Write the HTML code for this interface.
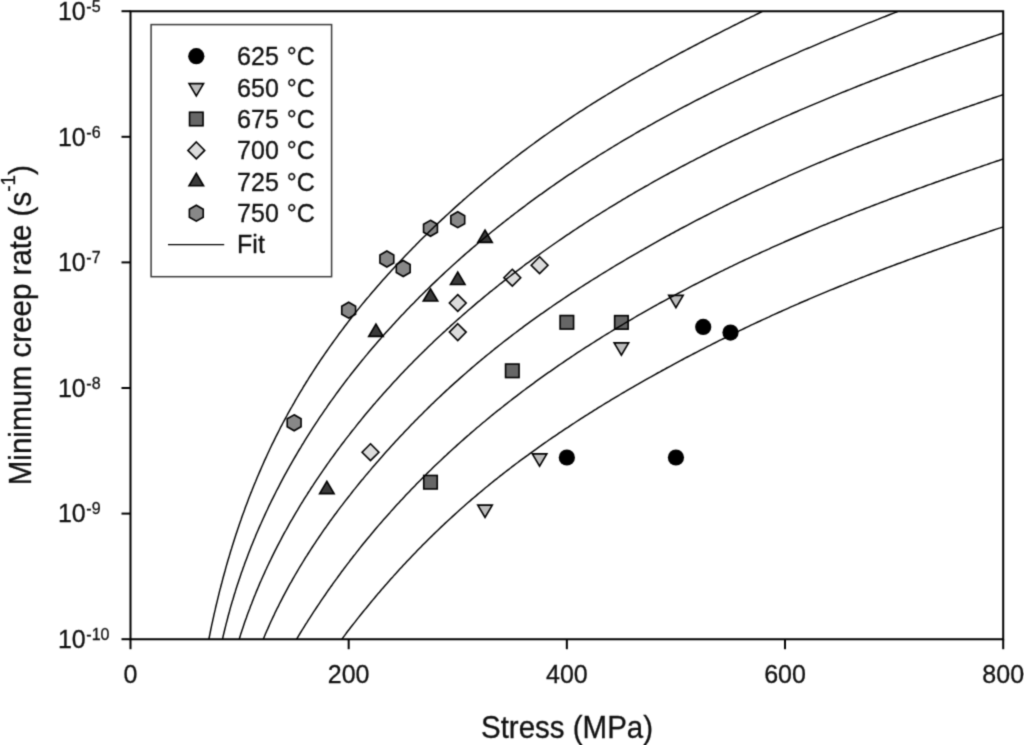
<!DOCTYPE html>
<html><head><meta charset="utf-8"><style>
html,body{margin:0;padding:0;background:#fff;}
svg{display:block;}
</style></head><body>
<svg width="1024" height="745" viewBox="0 0 1024 745">
<defs><filter id="soft" x="0" y="0" width="1" height="1" color-interpolation-filters="sRGB"><feConvolveMatrix order="3" kernelMatrix="0.0622 0.2494 0.0622 0.2494 1 0.2494 0.0622 0.2494 0.0622" edgeMode="duplicate"/></filter></defs>
<g filter="url(#soft)">
<rect width="1024" height="745" fill="#fff"/>
<circle cx="566.85" cy="457.50" r="8.1" fill="#000000"/>
<circle cx="675.94" cy="457.50" r="8.1" fill="#000000"/>
<circle cx="703.21" cy="326.90" r="8.1" fill="#000000"/>
<circle cx="730.48" cy="332.60" r="8.1" fill="#000000"/>
<polygon points="477.78,505.15 492.28,505.15 485.03,517.45" fill="#bdbdbd" stroke="#000" stroke-width="1.6" stroke-linejoin="miter"/>
<polygon points="532.33,453.85 546.83,453.85 539.58,466.15" fill="#bdbdbd" stroke="#000" stroke-width="1.6" stroke-linejoin="miter"/>
<polygon points="614.14,342.85 628.64,342.85 621.39,355.15" fill="#bdbdbd" stroke="#000" stroke-width="1.6" stroke-linejoin="miter"/>
<polygon points="668.69,295.35 683.19,295.35 675.94,307.65" fill="#bdbdbd" stroke="#000" stroke-width="1.6" stroke-linejoin="miter"/>
<rect x="423.74" y="475.45" width="13.5" height="13.5" fill="#666666" stroke="#000" stroke-width="1.6"/>
<rect x="505.56" y="364.05" width="13.5" height="13.5" fill="#666666" stroke="#000" stroke-width="1.6"/>
<rect x="560.10" y="315.55" width="13.5" height="13.5" fill="#666666" stroke="#000" stroke-width="1.6"/>
<rect x="614.64" y="315.65" width="13.5" height="13.5" fill="#666666" stroke="#000" stroke-width="1.6"/>
<polygon points="370.49,443.80 378.89,452.20 370.49,460.60 362.09,452.20" fill="#dcdcdc" stroke="#000" stroke-width="1.6"/>
<polygon points="457.76,323.70 466.16,332.10 457.76,340.50 449.36,332.10" fill="#dcdcdc" stroke="#000" stroke-width="1.6"/>
<polygon points="457.76,294.60 466.16,303.00 457.76,311.40 449.36,303.00" fill="#dcdcdc" stroke="#000" stroke-width="1.6"/>
<polygon points="512.31,269.30 520.71,277.70 512.31,286.10 503.91,277.70" fill="#dcdcdc" stroke="#000" stroke-width="1.6"/>
<polygon points="539.58,256.80 547.98,265.20 539.58,273.60 531.18,265.20" fill="#dcdcdc" stroke="#000" stroke-width="1.6"/>
<polygon points="319.61,493.65 334.11,493.65 326.86,481.35" fill="#3a3a3a" stroke="#000" stroke-width="1.6"/>
<polygon points="368.70,336.35 383.20,336.35 375.95,324.05" fill="#3a3a3a" stroke="#000" stroke-width="1.6"/>
<polygon points="423.24,301.05 437.74,301.05 430.49,288.75" fill="#3a3a3a" stroke="#000" stroke-width="1.6"/>
<polygon points="450.51,284.45 465.01,284.45 457.76,272.15" fill="#3a3a3a" stroke="#000" stroke-width="1.6"/>
<polygon points="477.78,242.35 492.28,242.35 485.03,230.05" fill="#3a3a3a" stroke="#000" stroke-width="1.6"/>
<polygon points="294.13,414.80 301.06,418.80 301.06,426.80 294.13,430.80 287.20,426.80 287.20,418.80" fill="#888888" stroke="#000" stroke-width="1.6"/>
<polygon points="348.68,302.20 355.60,306.20 355.60,314.20 348.68,318.20 341.75,314.20 341.75,306.20" fill="#888888" stroke="#000" stroke-width="1.6"/>
<polygon points="386.86,251.00 393.78,255.00 393.78,263.00 386.86,267.00 379.93,263.00 379.93,255.00" fill="#888888" stroke="#000" stroke-width="1.6"/>
<polygon points="403.22,260.50 410.15,264.50 410.15,272.50 403.22,276.50 396.29,272.50 396.29,264.50" fill="#888888" stroke="#000" stroke-width="1.6"/>
<polygon points="430.49,220.30 437.42,224.30 437.42,232.30 430.49,236.30 423.56,232.30 423.56,224.30" fill="#888888" stroke="#000" stroke-width="1.6"/>
<polygon points="457.76,211.70 464.69,215.70 464.69,223.70 457.76,227.70 450.83,223.70 450.83,215.70" fill="#888888" stroke="#000" stroke-width="1.6"/>
<clipPath id="pa"><rect x="130.5" y="11.2" width="872.7" height="628.0"/></clipPath>
<g fill="none" stroke="#000" stroke-width="1.45" stroke-linejoin="round" clip-path="url(#pa)">
<path d="M316.1,676.8 L317.4,674.7 L318.8,672.5 L320.2,670.4 L321.6,668.4 L323.0,666.2 L324.4,664.2 L325.8,662.1 L327.2,660.0 L328.6,657.9 L330.0,655.8 L331.5,653.7 L332.9,651.7 L334.3,649.6 L335.8,647.5 L337.3,645.5 L338.7,643.4 L340.2,641.4 L341.7,639.4 L343.2,637.4 L344.7,635.4 L346.2,633.3 L347.7,631.3 L349.3,629.3 L350.8,627.3 L352.4,625.3 L353.9,623.4 L355.5,621.4 L357.0,619.4 L358.6,617.4 L360.1,615.5 L361.7,613.5 L363.3,611.5 L364.9,609.6 L366.5,607.7 L368.1,605.7 L369.7,603.8 L371.3,601.8 L372.9,599.9 L374.5,598.0 L376.1,596.0 L377.7,594.1 L379.4,592.2 L381.0,590.3 L382.6,588.4 L384.3,586.5 L386.0,584.6 L387.6,582.7 L389.3,580.8 L391.0,578.8 L392.8,576.9 L394.5,574.9 L396.3,573.0 L398.1,571.0 L399.8,569.1 L401.6,567.2 L403.3,565.3 L405.1,563.4 L406.8,561.6 L408.6,559.7 L410.3,557.9 L412.1,556.0 L413.8,554.2 L415.6,552.4 L417.3,550.6 L419.1,548.8 L420.9,547.0 L422.7,545.1 L424.6,543.2 L426.4,541.4 L428.3,539.5 L430.1,537.7 L432.0,535.9 L433.8,534.1 L435.7,532.3 L437.6,530.5 L439.4,528.7 L441.3,526.9 L443.1,525.2 L445.0,523.4 L446.8,521.7 L448.7,520.0 L450.6,518.3 L452.4,516.6 L454.3,514.9 L456.1,513.2 L458.0,511.5 L459.9,509.7 L461.9,508.0 L463.9,506.3 L465.8,504.5 L467.8,502.8 L469.8,501.1 L471.7,499.4 L473.7,497.7 L475.7,496.1 L477.6,494.4 L479.6,492.7 L481.6,491.1 L483.5,489.5 L485.5,487.8 L487.5,486.2 L489.4,484.6 L491.4,483.0 L493.4,481.4 L495.3,479.8 L497.3,478.3 L499.3,476.7 L501.3,475.2 L503.2,473.6 L505.3,472.0 L507.4,470.4 L509.5,468.8 L511.5,467.2 L513.6,465.6 L515.7,464.0 L517.8,462.5 L519.8,460.9 L521.9,459.4 L524.0,457.9 L526.1,456.3 L528.2,454.8 L530.2,453.3 L532.3,451.8 L534.4,450.3 L536.5,448.8 L538.5,447.3 L540.6,445.9 L542.7,444.4 L544.8,442.9 L546.9,441.5 L548.9,440.0 L551.0,438.6 L553.1,437.2 L555.2,435.8 L557.3,434.4 L559.3,432.9 L561.4,431.6 L563.5,430.2 L565.7,428.7 L567.9,427.3 L570.0,425.8 L572.2,424.4 L574.4,423.0 L576.6,421.5 L578.8,420.1 L581.0,418.7 L583.1,417.3 L585.3,415.9 L587.5,414.6 L589.7,413.2 L591.9,411.8 L594.0,410.4 L596.2,409.1 L598.4,407.7 L600.6,406.4 L602.8,405.0 L604.9,403.7 L607.1,402.4 L609.3,401.1 L611.5,399.7 L613.7,398.4 L615.8,397.1 L618.0,395.8 L620.2,394.5 L622.4,393.2 L624.6,392.0 L626.7,390.7 L628.9,389.4 L631.1,388.1 L633.3,386.9 L635.4,385.6 L637.6,384.4 L639.8,383.1 L642.0,381.9 L644.1,380.7 L646.3,379.4 L648.6,378.1 L650.9,376.9 L653.2,375.6 L655.4,374.3 L657.7,373.0 L660.0,371.8 L662.3,370.5 L664.5,369.3 L666.8,368.0 L669.1,366.8 L671.4,365.6 L673.6,364.3 L675.9,363.1 L678.2,361.9 L680.5,360.7 L682.7,359.5 L685.0,358.2 L687.3,357.0 L689.6,355.8 L691.9,354.7 L694.1,353.5 L696.4,352.3 L698.7,351.1 L701.0,349.9 L703.2,348.8 L705.5,347.6 L707.8,346.4 L710.1,345.3 L712.3,344.1 L714.6,343.0 L716.9,341.8 L719.1,340.7 L721.4,339.6 L723.7,338.5 L726.0,337.3 L728.2,336.2 L730.5,335.1 L732.8,334.0 L735.1,332.9 L737.3,331.8 L739.6,330.7 L741.9,329.6 L744.2,328.5 L746.4,327.4 L748.7,326.3 L751.0,325.2 L753.3,324.2 L755.5,323.1 L757.8,322.0 L760.1,321.0 L762.4,319.9 L764.7,318.9 L766.9,317.8 L769.2,316.8 L771.5,315.7 L773.8,314.7 L776.1,313.6 L778.5,312.5 L780.9,311.5 L783.3,310.4 L785.7,309.3 L788.0,308.3 L790.4,307.2 L792.8,306.2 L795.2,305.1 L797.6,304.1 L799.9,303.0 L802.3,302.0 L804.7,301.0 L807.1,300.0 L809.5,298.9 L811.9,297.9 L814.2,296.9 L816.6,295.9 L819.0,294.9 L821.4,293.9 L823.8,292.9 L826.2,291.9 L828.5,290.9 L830.9,289.9 L833.3,289.0 L835.7,288.0 L838.1,287.0 L840.5,286.0 L842.9,285.1 L845.2,284.1 L847.6,283.2 L850.0,282.2 L852.4,281.3 L854.8,280.3 L857.2,279.4 L859.6,278.4 L861.9,277.5 L864.3,276.6 L866.7,275.6 L869.1,274.7 L871.5,273.8 L873.9,272.9 L876.3,272.0 L878.6,271.0 L881.0,270.1 L883.4,269.2 L885.8,268.3 L888.2,267.4 L890.6,266.5 L893.0,265.6 L895.3,264.7 L897.7,263.8 L900.1,263.0 L902.5,262.1 L904.9,261.2 L907.3,260.3 L909.7,259.4 L912.0,258.6 L914.4,257.7 L916.8,256.8 L919.2,256.0 L921.6,255.1 L924.0,254.2 L926.4,253.4 L928.7,252.5 L931.1,251.7 L933.5,250.8 L935.9,250.0 L938.3,249.1 L940.7,248.3 L943.1,247.5 L945.4,246.6 L947.8,245.8 L950.2,244.9 L952.6,244.1 L955.0,243.3 L957.4,242.5 L959.7,241.6 L962.1,240.8 L964.5,240.0 L966.9,239.2 L969.3,238.3 L971.7,237.5 L974.0,236.7 L976.4,235.9 L978.8,235.1 L981.2,234.3 L983.6,233.5 L985.9,232.7 L988.3,231.9 L990.7,231.0 L993.1,230.2 L995.5,229.4 L997.8,228.6 L1000.2,227.9 L1002.6,227.1 L1003.2,226.8"/>
<path d="M275.4,676.8 L276.5,674.6 L277.7,672.4 L278.9,670.1 L280.1,667.9 L281.3,665.7 L282.6,663.5 L283.8,661.3 L285.0,659.1 L286.3,656.9 L287.5,654.7 L288.7,652.5 L290.0,650.3 L291.3,648.1 L292.5,646.0 L293.8,643.8 L295.1,641.6 L296.4,639.5 L297.7,637.3 L299.0,635.1 L300.3,633.0 L301.6,630.8 L303.0,628.7 L304.3,626.6 L305.6,624.4 L307.0,622.3 L308.3,620.2 L309.7,618.1 L311.1,615.9 L312.4,613.8 L313.8,611.7 L315.2,609.6 L316.6,607.5 L318.0,605.4 L319.4,603.3 L320.8,601.2 L322.2,599.1 L323.6,597.1 L325.1,595.0 L326.5,592.9 L327.9,590.8 L329.4,588.8 L330.8,586.7 L332.3,584.7 L333.7,582.6 L335.2,580.6 L336.7,578.6 L338.2,576.5 L339.7,574.5 L341.2,572.3 L342.8,570.3 L344.3,568.2 L345.9,566.1 L347.4,564.1 L349.0,562.1 L350.5,560.0 L352.1,558.0 L353.6,556.0 L355.2,554.1 L356.7,552.1 L358.4,550.0 L360.0,547.9 L361.7,545.8 L363.3,543.8 L365.0,541.7 L366.6,539.7 L368.3,537.7 L370.0,535.7 L371.6,533.7 L373.3,531.7 L374.9,529.8 L376.6,527.8 L378.2,525.9 L379.9,523.9 L381.6,522.0 L383.2,520.1 L384.9,518.2 L386.5,516.4 L388.3,514.4 L390.1,512.4 L391.8,510.4 L393.6,508.5 L395.3,506.5 L397.1,504.6 L398.9,502.7 L400.6,500.7 L402.4,498.9 L404.2,497.0 L405.9,495.1 L407.7,493.2 L409.5,491.4 L411.2,489.5 L413.0,487.7 L414.8,485.9 L416.5,484.1 L418.3,482.3 L420.1,480.5 L421.8,478.7 L423.7,476.8 L425.6,475.0 L427.4,473.1 L429.3,471.3 L431.2,469.5 L433.1,467.6 L434.9,465.8 L436.8,464.0 L438.7,462.2 L440.6,460.5 L442.4,458.7 L444.3,456.9 L446.2,455.2 L448.1,453.4 L449.9,451.7 L451.8,450.0 L453.7,448.3 L455.6,446.6 L457.4,444.9 L459.3,443.2 L461.2,441.5 L463.1,439.9 L465.0,438.1 L467.0,436.4 L469.0,434.7 L471.0,432.9 L473.0,431.2 L475.0,429.5 L476.9,427.8 L478.9,426.2 L480.9,424.5 L482.9,422.8 L484.9,421.2 L486.9,419.5 L488.9,417.9 L490.8,416.3 L492.8,414.6 L494.8,413.0 L496.8,411.4 L498.8,409.8 L500.8,408.3 L502.8,406.7 L504.7,405.1 L506.7,403.6 L508.7,402.0 L510.7,400.5 L512.7,398.9 L514.7,397.4 L516.8,395.8 L518.9,394.2 L520.9,392.6 L523.0,391.0 L525.1,389.5 L527.2,387.9 L529.3,386.4 L531.4,384.8 L533.5,383.3 L535.6,381.7 L537.7,380.2 L539.8,378.7 L541.9,377.2 L544.0,375.7 L546.1,374.2 L548.2,372.7 L550.3,371.3 L552.4,369.8 L554.5,368.3 L556.6,366.9 L558.7,365.4 L560.8,364.0 L562.9,362.6 L565.0,361.1 L567.1,359.7 L569.2,358.3 L571.3,356.9 L573.4,355.5 L575.4,354.1 L577.5,352.7 L579.6,351.4 L581.7,350.0 L583.8,348.6 L586.0,347.2 L588.3,345.8 L590.5,344.4 L592.7,343.0 L594.9,341.6 L597.1,340.2 L599.3,338.8 L601.5,337.4 L603.7,336.0 L605.9,334.7 L608.1,333.3 L610.3,332.0 L612.5,330.6 L614.7,329.3 L617.0,327.9 L619.2,326.6 L621.4,325.3 L623.6,324.0 L625.8,322.7 L628.0,321.4 L630.2,320.1 L632.4,318.8 L634.6,317.5 L636.8,316.2 L639.0,314.9 L641.3,313.7 L643.5,312.4 L645.7,311.1 L647.9,309.9 L650.1,308.7 L652.3,307.4 L654.5,306.2 L656.7,305.0 L658.9,303.7 L661.1,302.5 L663.3,301.3 L665.6,300.1 L667.8,298.9 L670.0,297.7 L672.2,296.5 L674.4,295.3 L676.6,294.1 L678.8,293.0 L681.0,291.8 L683.3,290.6 L685.7,289.3 L688.0,288.1 L690.3,286.9 L692.6,285.7 L694.9,284.5 L697.3,283.3 L699.6,282.1 L701.9,281.0 L704.2,279.8 L706.5,278.6 L708.9,277.5 L711.2,276.3 L713.5,275.1 L715.8,274.0 L718.1,272.8 L720.5,271.7 L722.8,270.6 L725.1,269.4 L727.4,268.3 L729.7,267.2 L732.1,266.1 L734.4,264.9 L736.7,263.8 L739.0,262.7 L741.3,261.6 L743.7,260.5 L746.0,259.4 L748.3,258.4 L750.6,257.3 L752.9,256.2 L755.3,255.1 L757.6,254.1 L759.9,253.0 L762.2,251.9 L764.6,250.9 L766.9,249.8 L769.2,248.8 L771.5,247.7 L773.8,246.7 L776.2,245.6 L778.5,244.6 L780.8,243.6 L783.1,242.6 L785.4,241.5 L787.8,240.5 L790.1,239.5 L792.4,238.5 L794.7,237.5 L797.0,236.5 L799.4,235.5 L801.7,234.5 L804.0,233.5 L806.3,232.5 L808.6,231.5 L811.0,230.6 L813.3,229.6 L815.6,228.6 L817.9,227.7 L820.2,226.7 L822.6,225.7 L824.9,224.8 L827.2,223.8 L829.5,222.9 L831.8,221.9 L834.2,221.0 L836.5,220.0 L838.8,219.1 L841.1,218.2 L843.5,217.2 L846.0,216.2 L848.4,215.2 L850.8,214.3 L853.3,213.3 L855.7,212.3 L858.1,211.4 L860.6,210.4 L863.0,209.5 L865.4,208.5 L867.8,207.6 L870.3,206.7 L872.7,205.7 L875.1,204.8 L877.6,203.9 L880.0,202.9 L882.4,202.0 L884.8,201.1 L887.3,200.2 L889.7,199.2 L892.1,198.3 L894.5,197.4 L897.0,196.5 L899.4,195.6 L901.8,194.7 L904.3,193.8 L906.7,192.9 L909.1,192.0 L911.5,191.1 L914.0,190.2 L916.4,189.3 L918.8,188.4 L921.2,187.6 L923.7,186.7 L926.1,185.8 L928.5,184.9 L930.9,184.1 L933.4,183.2 L935.8,182.3 L938.2,181.5 L940.6,180.6 L943.1,179.7 L945.5,178.9 L947.9,178.0 L950.3,177.2 L952.8,176.3 L955.2,175.5 L957.6,174.6 L960.0,173.8 L962.4,172.9 L964.9,172.1 L967.3,171.2 L969.7,170.4 L972.1,169.6 L974.6,168.7 L977.0,167.9 L979.4,167.1 L981.8,166.2 L984.2,165.4 L986.7,164.6 L989.1,163.7 L991.5,162.9 L993.9,162.1 L996.3,161.3 L998.8,160.5 L1001.2,159.6 L1003.1,159.0"/>
<path d="M246.1,677.3 L247.1,675.0 L248.1,672.7 L249.1,670.4 L250.1,668.1 L251.1,665.8 L252.1,663.4 L253.2,661.1 L254.2,658.8 L255.2,656.5 L256.3,654.2 L257.3,651.9 L258.4,649.6 L259.4,647.3 L260.5,645.0 L261.6,642.8 L262.7,640.5 L263.7,638.2 L264.7,635.8 L265.6,633.5 L266.6,631.2 L267.7,628.9 L268.7,626.6 L269.7,624.3 L270.7,622.0 L271.8,619.7 L272.9,617.4 L274.0,615.1 L275.0,612.8 L276.1,610.6 L277.2,608.3 L278.4,606.1 L279.5,603.8 L280.6,601.6 L281.8,599.3 L282.9,597.1 L284.1,594.8 L285.3,592.6 L286.5,590.4 L287.7,588.2 L288.9,585.9 L290.1,583.7 L291.4,581.6 L292.6,579.4 L293.9,577.2 L295.1,575.0 L296.4,572.8 L297.7,570.6 L298.9,568.5 L300.2,566.3 L301.6,564.2 L302.9,562.0 L304.2,559.9 L305.5,557.7 L306.9,555.6 L308.2,553.5 L309.6,551.3 L311.0,549.2 L312.4,547.0 L313.8,544.9 L315.2,542.8 L316.6,540.7 L318.0,538.6 L319.4,536.5 L320.9,534.3 L322.4,532.1 L323.9,529.9 L325.5,527.8 L327.0,525.6 L328.5,523.5 L330.0,521.3 L331.6,519.2 L333.1,517.1 L334.6,515.0 L336.2,513.0 L337.7,510.9 L339.2,508.9 L340.7,506.9 L342.3,504.9 L343.8,502.9 L345.3,500.9 L347.0,498.8 L348.6,496.7 L350.3,494.6 L351.9,492.5 L353.5,490.4 L355.2,488.4 L356.8,486.4 L358.5,484.3 L360.1,482.3 L361.7,480.3 L363.4,478.4 L365.0,476.4 L366.6,474.4 L368.3,472.5 L369.9,470.6 L371.5,468.6 L373.1,466.7 L374.9,464.7 L376.6,462.7 L378.4,460.7 L380.1,458.7 L381.9,456.7 L383.6,454.7 L385.3,452.8 L387.1,450.8 L388.8,448.9 L390.5,447.0 L392.3,445.1 L394.0,443.2 L395.7,441.3 L397.5,439.4 L399.2,437.6 L400.9,435.7 L402.7,433.9 L404.4,432.0 L406.1,430.2 L407.9,428.4 L409.7,426.5 L411.5,424.6 L413.4,422.7 L415.2,420.8 L417.1,418.9 L418.9,417.1 L420.8,415.2 L422.6,413.4 L424.4,411.5 L426.3,409.7 L428.1,407.9 L430.0,406.1 L431.8,404.3 L433.7,402.6 L435.5,400.8 L437.3,399.0 L439.2,397.3 L441.0,395.6 L442.9,393.8 L444.7,392.1 L446.5,390.4 L448.4,388.7 L450.3,386.9 L452.3,385.1 L454.2,383.4 L456.2,381.6 L458.2,379.9 L460.1,378.1 L462.1,376.4 L464.0,374.7 L466.0,373.0 L467.9,371.3 L469.9,369.6 L471.8,367.9 L473.8,366.2 L475.8,364.5 L477.7,362.9 L479.7,361.2 L481.6,359.6 L483.6,358.0 L485.5,356.4 L487.5,354.8 L489.5,353.2 L491.4,351.6 L493.4,350.0 L495.3,348.4 L497.3,346.9 L499.3,345.3 L501.3,343.7 L503.4,342.0 L505.5,340.4 L507.6,338.8 L509.7,337.2 L511.7,335.6 L513.8,334.0 L515.9,332.5 L518.0,330.9 L520.0,329.3 L522.1,327.8 L524.2,326.2 L526.3,324.7 L528.4,323.2 L530.4,321.7 L532.5,320.2 L534.6,318.7 L536.7,317.2 L538.8,315.7 L540.8,314.2 L542.9,312.8 L545.0,311.3 L547.1,309.8 L549.2,308.4 L551.3,307.0 L553.3,305.5 L555.4,304.1 L557.5,302.7 L559.6,301.3 L561.7,299.9 L563.7,298.5 L565.8,297.1 L568.0,295.6 L570.2,294.2 L572.4,292.7 L574.6,291.3 L576.8,289.8 L579.0,288.4 L581.2,287.0 L583.4,285.6 L585.6,284.2 L587.8,282.8 L590.0,281.4 L592.2,280.0 L594.4,278.6 L596.6,277.3 L598.8,275.9 L601.0,274.5 L603.2,273.2 L605.4,271.8 L607.6,270.5 L609.8,269.2 L611.9,267.8 L614.1,266.5 L616.3,265.2 L618.5,263.9 L620.7,262.6 L622.9,261.3 L625.1,260.0 L627.3,258.7 L629.5,257.4 L631.7,256.1 L633.9,254.8 L636.1,253.6 L638.3,252.3 L640.5,251.0 L642.7,249.8 L644.9,248.5 L647.1,247.3 L649.2,246.1 L651.4,244.8 L653.6,243.6 L655.8,242.4 L658.0,241.1 L660.2,239.9 L662.4,238.7 L664.6,237.5 L666.9,236.2 L669.2,235.0 L671.5,233.7 L673.8,232.5 L676.1,231.2 L678.4,230.0 L680.7,228.7 L683.0,227.5 L685.3,226.3 L687.6,225.1 L689.9,223.8 L692.2,222.6 L694.5,221.4 L696.8,220.2 L699.2,219.0 L701.5,217.8 L703.8,216.6 L706.1,215.5 L708.4,214.3 L710.7,213.1 L713.0,211.9 L715.3,210.8 L717.6,209.6 L719.9,208.4 L722.2,207.3 L724.5,206.1 L726.8,205.0 L729.1,203.9 L731.4,202.7 L733.7,201.6 L736.0,200.5 L738.3,199.3 L740.6,198.2 L742.9,197.1 L745.2,196.0 L747.5,194.9 L749.8,193.8 L752.1,192.7 L754.4,191.6 L756.8,190.5 L759.1,189.4 L761.4,188.4 L763.7,187.3 L766.0,186.2 L768.3,185.1 L770.6,184.1 L772.9,183.0 L775.2,182.0 L777.5,180.9 L779.8,179.9 L782.1,178.8 L784.4,177.8 L786.7,176.8 L789.0,175.7 L791.4,174.7 L793.7,173.7 L796.0,172.7 L798.3,171.7 L800.6,170.7 L802.9,169.7 L805.2,168.7 L807.5,167.7 L809.8,166.7 L812.1,165.7 L814.5,164.7 L816.8,163.7 L819.1,162.7 L821.4,161.8 L823.7,160.8 L826.0,159.8 L828.3,158.9 L830.6,157.9 L832.9,157.0 L835.3,156.0 L837.7,155.0 L840.1,154.0 L842.6,153.1 L845.0,152.1 L847.4,151.1 L849.8,150.1 L852.3,149.2 L854.7,148.2 L857.1,147.2 L859.6,146.3 L862.0,145.3 L864.4,144.4 L866.9,143.5 L869.3,142.5 L871.7,141.6 L874.2,140.6 L876.6,139.7 L879.0,138.8 L881.5,137.9 L883.9,136.9 L886.3,136.0 L888.7,135.1 L891.2,134.2 L893.6,133.3 L896.0,132.4 L898.5,131.5 L900.9,130.6 L903.3,129.7 L905.8,128.8 L908.2,127.9 L910.6,127.0 L913.1,126.1 L915.5,125.2 L917.9,124.4 L920.4,123.5 L922.8,122.6 L925.2,121.7 L927.6,120.9 L930.1,120.0 L932.5,119.1 L934.9,118.3 L937.4,117.4 L939.8,116.5 L942.2,115.7 L944.6,114.8 L947.1,114.0 L949.5,113.1 L951.9,112.3 L954.4,111.4 L956.8,110.6 L959.2,109.7 L961.6,108.9 L964.1,108.0 L966.5,107.2 L968.9,106.4 L971.3,105.5 L973.8,104.7 L976.2,103.9 L978.6,103.0 L981.0,102.2 L983.5,101.4 L985.9,100.5 L988.3,99.7 L990.7,98.9 L993.1,98.0 L995.6,97.2 L998.0,96.4 L1000.4,95.6 L1002.8,94.8 L1003.3,94.6"/>
<path d="M225.5,677.5 L226.3,675.1 L227.1,672.8 L227.9,670.4 L228.7,668.0 L229.6,665.6 L230.4,663.2 L231.3,660.8 L232.1,658.4 L233.0,656.1 L233.8,653.7 L234.7,651.3 L235.6,648.9 L236.4,646.5 L237.3,644.2 L238.2,641.8 L239.1,639.4 L239.9,637.1 L240.6,634.6 L241.4,632.2 L242.2,629.8 L243.0,627.4 L243.8,625.0 L244.6,622.6 L245.4,620.3 L246.3,617.9 L247.1,615.5 L248.0,613.1 L248.9,610.8 L249.8,608.4 L250.6,606.0 L251.6,603.7 L252.5,601.3 L253.4,598.9 L254.3,596.6 L255.3,594.3 L256.2,591.9 L257.2,589.6 L258.2,587.3 L259.2,584.9 L260.1,582.6 L261.2,580.3 L262.2,578.0 L263.2,575.7 L264.3,573.4 L265.3,571.0 L266.4,568.8 L267.4,566.5 L268.5,564.2 L269.6,561.9 L270.7,559.7 L271.8,557.4 L272.9,555.1 L274.0,552.9 L275.1,550.6 L276.3,548.3 L277.4,546.1 L278.6,543.8 L279.8,541.6 L281.0,539.4 L282.1,537.1 L283.3,534.9 L284.5,532.7 L285.8,530.5 L287.0,528.3 L288.2,526.1 L289.5,523.7 L290.8,521.4 L292.2,519.1 L293.5,516.8 L294.8,514.6 L296.1,512.3 L297.5,510.1 L298.8,507.9 L300.1,505.7 L301.4,503.5 L302.8,501.4 L304.1,499.2 L305.4,497.1 L306.9,494.8 L308.3,492.5 L309.8,490.3 L311.2,488.0 L312.7,485.8 L314.1,483.6 L315.6,481.4 L317.1,479.2 L318.5,477.1 L320.0,474.9 L321.4,472.8 L322.9,470.7 L324.3,468.6 L325.8,466.5 L327.2,464.4 L328.7,462.4 L330.1,460.3 L331.7,458.1 L333.3,456.0 L334.9,453.8 L336.4,451.7 L338.0,449.5 L339.6,447.4 L341.1,445.3 L342.7,443.2 L344.3,441.2 L345.8,439.1 L347.4,437.1 L349.0,435.1 L350.6,433.0 L352.1,431.0 L353.7,429.1 L355.3,427.1 L356.8,425.1 L358.5,423.0 L360.2,421.0 L361.9,418.9 L363.6,416.8 L365.2,414.8 L366.9,412.8 L368.6,410.8 L370.3,408.8 L372.0,406.8 L373.6,404.8 L375.3,402.9 L377.0,400.9 L378.7,399.0 L380.4,397.1 L382.0,395.2 L383.7,393.3 L385.4,391.4 L387.1,389.5 L388.8,387.7 L390.6,385.7 L392.3,383.7 L394.1,381.8 L395.9,379.9 L397.7,377.9 L399.5,376.0 L401.3,374.1 L403.1,372.2 L404.9,370.3 L406.7,368.5 L408.5,366.6 L410.3,364.8 L412.1,363.0 L413.9,361.1 L415.7,359.3 L417.5,357.5 L419.2,355.7 L421.0,354.0 L422.8,352.2 L424.6,350.4 L426.4,348.7 L428.3,346.8 L430.2,345.0 L432.1,343.2 L434.0,341.3 L435.9,339.5 L437.8,337.7 L439.7,336.0 L441.6,334.2 L443.6,332.4 L445.5,330.7 L447.4,328.9 L449.3,327.2 L451.2,325.4 L453.1,323.7 L455.0,322.0 L456.9,320.3 L458.8,318.6 L460.7,317.0 L462.6,315.3 L464.5,313.6 L466.4,312.0 L468.3,310.3 L470.2,308.7 L472.1,307.1 L474.1,305.4 L476.1,303.6 L478.1,301.9 L480.2,300.3 L482.2,298.6 L484.2,296.9 L486.2,295.2 L488.2,293.6 L490.2,291.9 L492.3,290.3 L494.3,288.7 L496.3,287.1 L498.3,285.5 L500.3,283.8 L502.3,282.3 L504.4,280.7 L506.4,279.1 L508.4,277.5 L510.4,276.0 L512.4,274.4 L514.4,272.9 L516.4,271.3 L518.5,269.8 L520.5,268.3 L522.5,266.8 L524.5,265.2 L526.5,263.7 L528.5,262.3 L530.5,260.8 L532.7,259.2 L534.8,257.6 L536.9,256.1 L539.1,254.6 L541.2,253.0 L543.3,251.5 L545.5,250.0 L547.6,248.5 L549.7,247.0 L551.9,245.5 L554.0,244.0 L556.2,242.5 L558.3,241.0 L560.4,239.6 L562.6,238.1 L564.7,236.6 L566.8,235.2 L569.0,233.8 L571.1,232.3 L573.2,230.9 L575.4,229.5 L577.5,228.1 L579.6,226.7 L581.8,225.3 L583.9,223.9 L586.0,222.5 L588.2,221.1 L590.3,219.7 L592.4,218.4 L594.6,217.0 L596.7,215.7 L598.9,214.3 L601.0,213.0 L603.1,211.7 L605.3,210.3 L607.4,209.0 L609.5,207.7 L611.7,206.4 L613.8,205.1 L615.9,203.8 L618.2,202.4 L620.5,201.1 L622.7,199.7 L625.0,198.4 L627.2,197.0 L629.5,195.7 L631.8,194.4 L634.0,193.0 L636.3,191.7 L638.5,190.4 L640.8,189.1 L643.0,187.8 L645.3,186.5 L647.6,185.3 L649.8,184.0 L652.1,182.7 L654.3,181.4 L656.6,180.2 L658.9,178.9 L661.1,177.7 L663.4,176.4 L665.7,175.2 L667.9,174.0 L670.2,172.7 L672.4,171.5 L674.7,170.3 L677.0,169.1 L679.2,167.9 L681.5,166.7 L683.8,165.5 L686.0,164.3 L688.3,163.1 L690.5,161.9 L692.8,160.8 L695.1,159.6 L697.3,158.4 L699.6,157.3 L701.9,156.1 L704.1,155.0 L706.4,153.8 L708.7,152.7 L710.9,151.5 L713.2,150.4 L715.4,149.3 L717.7,148.2 L720.0,147.0 L722.2,145.9 L724.5,144.8 L726.8,143.7 L729.0,142.6 L731.3,141.5 L733.6,140.4 L735.8,139.3 L738.1,138.3 L740.4,137.2 L742.6,136.1 L744.9,135.0 L747.2,134.0 L749.4,132.9 L751.7,131.8 L754.1,130.7 L756.5,129.6 L758.8,128.5 L761.2,127.4 L763.6,126.3 L766.0,125.2 L768.4,124.2 L770.8,123.1 L773.2,122.0 L775.5,120.9 L777.9,119.9 L780.3,118.8 L782.7,117.7 L785.1,116.7 L787.5,115.6 L789.9,114.6 L792.2,113.5 L794.6,112.5 L797.0,111.5 L799.4,110.4 L801.8,109.4 L804.2,108.4 L806.6,107.3 L808.9,106.3 L811.3,105.3 L813.7,104.3 L816.1,103.3 L818.5,102.3 L820.9,101.3 L823.3,100.3 L825.6,99.3 L828.0,98.3 L830.4,97.3 L832.8,96.3 L835.2,95.4 L837.6,94.4 L840.0,93.4 L842.3,92.4 L844.7,91.5 L847.1,90.5 L849.5,89.6 L851.9,88.6 L854.3,87.6 L856.6,86.7 L859.0,85.7 L861.4,84.8 L863.8,83.9 L866.2,82.9 L868.6,82.0 L871.0,81.0 L873.3,80.1 L875.7,79.2 L878.1,78.3 L880.5,77.3 L882.9,76.4 L885.3,75.5 L887.6,74.6 L890.0,73.7 L892.4,72.8 L894.8,71.9 L897.2,71.0 L899.6,70.1 L901.9,69.2 L904.3,68.3 L906.7,67.4 L909.1,66.5 L911.5,65.6 L913.9,64.7 L916.2,63.8 L918.6,62.9 L921.0,62.1 L923.4,61.2 L925.8,60.3 L928.2,59.4 L930.5,58.6 L932.9,57.7 L935.3,56.8 L937.7,56.0 L940.1,55.1 L942.5,54.3 L944.8,53.4 L947.2,52.6 L949.6,51.7 L952.0,50.9 L954.4,50.0 L956.7,49.2 L959.1,48.3 L961.5,47.5 L963.9,46.6 L966.3,45.8 L968.6,45.0 L971.0,44.1 L973.4,43.3 L975.8,42.5 L978.2,41.6 L980.5,40.8 L982.9,40.0 L985.3,39.2 L987.7,38.3 L990.1,37.5 L992.4,36.7 L994.8,35.9 L997.2,35.1 L999.6,34.3 L1001.9,33.5 L1003.3,33.0"/>
<path d="M211.9,677.5 L212.5,675.1 L213.2,672.7 L213.8,670.2 L214.5,667.7 L215.1,665.3 L215.8,662.9 L216.5,660.4 L217.1,657.9 L217.8,655.5 L218.5,653.1 L219.2,650.6 L219.9,648.2 L220.6,645.8 L221.3,643.3 L222.0,640.8 L222.7,638.4 L223.2,635.9 L223.8,633.5 L224.4,631.0 L225.0,628.5 L225.6,626.1 L226.2,623.6 L226.9,621.1 L227.5,618.7 L228.1,616.3 L228.8,613.8 L229.5,611.3 L230.1,608.9 L230.8,606.4 L231.5,604.0 L232.2,601.6 L233.0,599.2 L233.7,596.7 L234.4,594.3 L235.2,591.9 L235.9,589.4 L236.7,587.0 L237.5,584.6 L238.3,582.2 L239.1,579.8 L239.9,577.4 L240.7,575.0 L241.5,572.6 L242.4,570.2 L243.2,567.8 L244.1,565.5 L244.9,563.1 L245.8,560.7 L246.7,558.4 L247.6,556.0 L248.5,553.6 L249.4,551.3 L250.3,548.9 L251.2,546.6 L252.2,544.2 L253.1,541.9 L254.1,539.5 L255.1,537.2 L256.0,534.8 L257.0,532.5 L258.0,530.2 L259.0,527.9 L260.0,525.6 L261.1,523.3 L262.1,521.0 L263.1,518.7 L264.2,516.4 L265.2,514.1 L266.3,511.8 L267.4,509.5 L268.4,507.2 L269.5,504.9 L270.6,502.7 L271.7,500.4 L272.9,498.1 L274.0,495.9 L275.2,493.5 L276.4,491.0 L277.7,488.6 L278.9,486.3 L280.1,483.9 L281.3,481.6 L282.6,479.2 L283.8,476.9 L285.0,474.7 L286.3,472.4 L287.5,470.2 L288.8,467.9 L290.0,465.7 L291.2,463.6 L292.6,461.2 L293.9,458.8 L295.3,456.5 L296.7,454.1 L298.0,451.8 L299.4,449.5 L300.8,447.3 L302.1,445.0 L303.5,442.8 L304.8,440.6 L306.2,438.4 L307.6,436.2 L308.9,434.1 L310.3,431.9 L311.6,429.8 L313.0,427.7 L314.5,425.4 L316.0,423.1 L317.5,420.9 L318.9,418.7 L320.4,416.4 L321.9,414.3 L323.4,412.1 L324.9,409.9 L326.4,407.8 L327.8,405.7 L329.3,403.5 L330.8,401.4 L332.3,399.4 L333.8,397.3 L335.2,395.3 L336.7,393.2 L338.2,391.2 L339.8,389.0 L341.4,386.9 L343.0,384.8 L344.6,382.6 L346.2,380.5 L347.8,378.4 L349.4,376.4 L351.0,374.3 L352.6,372.3 L354.2,370.2 L355.8,368.2 L357.4,366.2 L359.0,364.2 L360.6,362.3 L362.2,360.3 L363.8,358.4 L365.4,356.4 L367.1,354.4 L368.8,352.3 L370.5,350.3 L372.2,348.3 L374.0,346.2 L375.7,344.3 L377.4,342.3 L379.1,340.3 L380.8,338.4 L382.5,336.4 L384.2,334.5 L385.9,332.6 L387.6,330.7 L389.4,328.8 L391.1,326.9 L392.8,325.0 L394.5,323.2 L396.2,321.3 L397.9,319.5 L399.7,317.5 L401.5,315.6 L403.4,313.7 L405.2,311.8 L407.0,309.8 L408.8,308.0 L410.6,306.1 L412.5,304.2 L414.3,302.4 L416.1,300.5 L417.9,298.7 L419.7,296.8 L421.6,295.0 L423.4,293.2 L425.2,291.4 L427.0,289.7 L428.8,287.9 L430.6,286.1 L432.4,284.4 L434.3,282.6 L436.1,280.9 L438.0,279.1 L439.9,277.2 L441.9,275.4 L443.8,273.6 L445.7,271.8 L447.7,270.0 L449.6,268.3 L451.5,266.5 L453.4,264.8 L455.4,263.0 L457.3,261.3 L459.2,259.6 L461.2,257.8 L463.1,256.1 L465.0,254.4 L466.9,252.8 L468.9,251.1 L470.8,249.4 L472.7,247.7 L474.7,246.1 L476.6,244.5 L478.5,242.8 L480.4,241.2 L482.4,239.6 L484.3,238.0 L486.2,236.4 L488.3,234.7 L490.3,233.0 L492.4,231.3 L494.4,229.7 L496.5,228.0 L498.5,226.4 L500.6,224.7 L502.6,223.1 L504.7,221.5 L506.7,219.9 L508.8,218.3 L510.8,216.7 L512.9,215.1 L514.9,213.5 L517.0,212.0 L519.0,210.4 L521.1,208.8 L523.1,207.3 L525.2,205.8 L527.2,204.2 L529.3,202.7 L531.3,201.2 L533.4,199.7 L535.4,198.2 L537.5,196.7 L539.5,195.2 L541.6,193.8 L543.6,192.3 L545.7,190.8 L547.7,189.4 L549.8,187.9 L551.8,186.5 L553.9,185.1 L555.9,183.6 L558.1,182.1 L560.3,180.6 L562.5,179.2 L564.6,177.7 L566.8,176.2 L569.0,174.7 L571.2,173.3 L573.4,171.8 L575.5,170.4 L577.7,169.0 L579.9,167.5 L582.1,166.1 L584.3,164.7 L586.4,163.3 L588.6,161.9 L590.8,160.5 L593.0,159.1 L595.2,157.8 L597.3,156.4 L599.5,155.0 L601.7,153.7 L603.9,152.3 L606.1,151.0 L608.3,149.6 L610.4,148.3 L612.6,147.0 L614.8,145.6 L617.0,144.3 L619.2,143.0 L621.4,141.7 L623.5,140.4 L625.7,139.1 L627.9,137.8 L630.1,136.6 L632.3,135.3 L634.5,134.0 L636.7,132.7 L638.8,131.5 L641.0,130.2 L643.2,129.0 L645.4,127.8 L647.6,126.5 L649.8,125.3 L652.0,124.1 L654.2,122.8 L656.3,121.6 L658.7,120.4 L661.0,119.1 L663.3,117.8 L665.6,116.6 L667.9,115.3 L670.2,114.1 L672.5,112.8 L674.8,111.6 L677.1,110.4 L679.4,109.1 L681.8,107.9 L684.1,106.7 L686.4,105.5 L688.7,104.3 L691.0,103.1 L693.3,101.9 L695.6,100.7 L697.9,99.5 L700.3,98.3 L702.6,97.2 L704.9,96.0 L707.2,94.8 L709.5,93.7 L711.8,92.5 L714.1,91.4 L716.5,90.2 L718.8,89.1 L721.1,87.9 L723.4,86.8 L725.7,85.7 L728.0,84.6 L730.3,83.4 L732.7,82.3 L735.0,81.2 L737.3,80.1 L739.6,79.0 L741.9,77.9 L744.2,76.8 L746.6,75.7 L748.9,74.6 L751.2,73.6 L753.5,72.5 L755.8,71.4 L758.1,70.4 L760.4,69.3 L762.8,68.2 L765.1,67.2 L767.4,66.1 L769.7,65.1 L772.0,64.0 L774.3,63.0 L776.7,61.9 L779.0,60.9 L781.3,59.9 L783.6,58.8 L785.9,57.8 L788.2,56.8 L790.5,55.8 L792.9,54.8 L795.2,53.8 L797.5,52.8 L799.8,51.7 L802.1,50.7 L804.4,49.7 L806.7,48.7 L809.1,47.8 L811.4,46.8 L813.7,45.8 L816.0,44.8 L818.3,43.8 L820.6,42.8 L822.9,41.9 L825.2,40.9 L827.6,39.9 L829.9,38.9 L832.2,38.0 L834.5,37.0 L836.8,36.1 L839.1,35.1 L841.4,34.1 L843.9,33.1 L846.3,32.1 L848.7,31.1 L851.2,30.1 L853.6,29.2 L856.0,28.2 L858.4,27.2 L860.9,26.2 L863.3,25.2 L865.7,24.2 L868.2,23.2 L870.6,22.3 L873.0,21.3 L875.5,20.3 L877.9,19.4 L880.3,18.4 L882.7,17.4 L885.2,16.5 L887.6,15.5 L890.0,14.5 L892.4,13.6 L894.9,12.6 L897.3,11.7 L899.7,10.7 L902.1,9.8 L904.6,8.8 L907.0,7.9 L909.4,7.0 L911.9,6.0 L914.3,5.1 L916.7,4.2 L919.1,3.3 L921.6,2.3 L924.0,1.4 L926.4,0.5 L928.9,-0.4 L931.3,-1.3 L933.7,-2.2 L936.1,-3.1 L938.6,-4.0 L941.0,-5.0 L943.4,-5.8 L945.8,-6.7 L948.3,-7.6 L950.7,-8.5 L953.1,-9.4 L955.6,-10.3 L958.0,-11.2 L960.4,-12.1 L962.8,-13.0 L963.9,-13.3"/>
<path d="M201.1,677.1 L201.6,674.5 L202.1,672.0 L202.5,669.5 L203.0,667.1 L203.5,664.5 L204.0,662.0 L204.5,659.5 L205.0,657.1 L205.6,654.5 L206.1,652.0 L206.6,649.5 L207.1,647.0 L207.7,644.5 L208.2,642.0 L208.8,639.5 L209.3,637.0 L209.8,634.6 L210.3,632.0 L210.8,629.5 L211.3,627.1 L211.8,624.6 L212.4,622.1 L212.9,619.6 L213.5,617.1 L214.0,614.7 L214.6,612.2 L215.2,609.7 L215.7,607.2 L216.3,604.8 L216.9,602.3 L217.5,599.8 L218.1,597.4 L218.7,594.9 L219.3,592.4 L219.9,589.9 L220.6,587.5 L221.2,585.0 L221.9,582.5 L222.5,580.1 L223.1,577.7 L223.8,575.2 L224.5,572.8 L225.2,570.3 L225.8,567.9 L226.5,565.4 L227.2,563.0 L227.9,560.5 L228.7,558.1 L229.4,555.6 L230.1,553.2 L230.8,550.8 L231.6,548.4 L232.3,546.0 L233.1,543.5 L233.9,541.1 L234.6,538.7 L235.4,536.3 L236.2,533.8 L237.0,531.4 L237.8,529.1 L238.6,526.7 L239.4,524.3 L240.2,521.9 L241.1,519.5 L241.9,517.1 L242.7,514.7 L243.6,512.4 L244.5,510.0 L245.3,507.6 L246.2,505.2 L247.1,502.9 L248.0,500.5 L248.9,498.1 L249.8,495.8 L250.7,493.4 L251.7,491.1 L252.6,488.7 L253.5,486.4 L254.5,484.0 L255.5,481.7 L256.4,479.4 L257.4,477.0 L258.4,474.7 L259.4,472.4 L260.4,470.1 L261.4,467.8 L262.4,465.5 L263.4,463.2 L264.4,460.9 L265.6,458.4 L266.7,456.0 L267.8,453.5 L268.9,451.2 L270.0,448.8 L271.1,446.5 L272.2,444.1 L273.4,441.8 L274.5,439.6 L275.6,437.3 L276.7,435.1 L278.0,432.6 L279.2,430.2 L280.4,427.7 L281.7,425.3 L282.9,423.0 L284.2,420.6 L285.4,418.3 L286.7,416.0 L287.9,413.7 L289.2,411.4 L290.4,409.2 L291.7,407.0 L292.9,404.8 L294.2,402.6 L295.4,400.4 L296.8,398.0 L298.2,395.7 L299.5,393.4 L300.9,391.1 L302.3,388.8 L303.6,386.5 L305.0,384.3 L306.4,382.0 L307.8,379.8 L309.1,377.6 L310.5,375.5 L311.9,373.3 L313.3,371.2 L314.6,369.1 L316.0,367.0 L317.5,364.7 L319.0,362.5 L320.5,360.2 L322.0,358.0 L323.5,355.8 L325.0,353.6 L326.5,351.5 L328.0,349.3 L329.5,347.2 L331.0,345.1 L332.5,343.0 L334.0,340.9 L335.5,338.9 L337.0,336.8 L338.4,334.8 L339.9,332.8 L341.6,330.6 L343.2,328.5 L344.8,326.3 L346.4,324.2 L348.0,322.1 L349.6,320.0 L351.2,318.0 L352.9,315.9 L354.5,313.9 L356.1,311.9 L357.7,309.9 L359.3,307.9 L360.9,305.9 L362.5,303.9 L364.1,302.0 L365.7,300.0 L367.4,298.1 L369.1,296.1 L370.8,294.0 L372.5,292.0 L374.3,290.0 L376.0,288.0 L377.7,286.0 L379.5,284.0 L381.2,282.0 L382.9,280.1 L384.6,278.2 L386.4,276.2 L388.1,274.3 L389.8,272.4 L391.5,270.5 L393.2,268.7 L395.0,266.8 L396.7,265.0 L398.4,263.1 L400.1,261.3 L401.8,259.5 L403.7,257.5 L405.5,255.6 L407.3,253.7 L409.2,251.8 L411.0,249.9 L412.8,248.0 L414.7,246.2 L416.5,244.3 L418.3,242.5 L420.2,240.6 L422.0,238.8 L423.8,237.0 L425.7,235.2 L427.5,233.4 L429.3,231.6 L431.2,229.8 L433.0,228.1 L434.8,226.3 L436.6,224.6 L438.5,222.8 L440.3,221.1 L442.1,219.4 L444.1,217.6 L446.0,215.8 L448.0,214.0 L449.9,212.2 L451.9,210.4 L453.8,208.6 L455.7,206.9 L457.7,205.1 L459.6,203.4 L461.6,201.7 L463.5,199.9 L465.5,198.2 L467.4,196.5 L469.4,194.8 L471.3,193.1 L473.3,191.5 L475.2,189.8 L477.2,188.1 L479.1,186.5 L481.1,184.9 L483.0,183.2 L485.0,181.6 L486.9,180.0 L488.9,178.4 L490.8,176.8 L492.8,175.2 L494.7,173.6 L496.7,172.0 L498.6,170.5 L500.7,168.8 L502.8,167.2 L504.8,165.5 L506.9,163.9 L509.0,162.3 L511.0,160.7 L513.1,159.0 L515.2,157.5 L517.3,155.9 L519.3,154.3 L521.4,152.7 L523.5,151.1 L525.6,149.6 L527.7,148.0 L529.7,146.5 L531.8,145.0 L533.9,143.5 L536.0,141.9 L538.1,140.4 L540.1,138.9 L542.2,137.4 L544.3,135.9 L546.4,134.5 L548.5,133.0 L550.6,131.5 L552.6,130.1 L554.7,128.6 L556.8,127.2 L558.9,125.8 L561.0,124.3 L563.1,122.9 L565.2,121.5 L567.3,120.1 L569.4,118.7 L571.4,117.3 L573.5,115.9 L575.6,114.5 L577.7,113.2 L579.9,111.7 L582.2,110.3 L584.4,108.9 L586.6,107.4 L588.8,106.0 L591.0,104.6 L593.3,103.2 L595.5,101.8 L597.7,100.4 L599.9,99.1 L602.2,97.7 L604.4,96.3 L606.6,95.0 L608.8,93.6 L611.1,92.3 L613.3,90.9 L615.5,89.6 L617.7,88.3 L620.0,86.9 L622.2,85.6 L624.4,84.3 L626.6,83.0 L628.9,81.7 L631.1,80.4 L633.3,79.1 L635.5,77.8 L637.8,76.6 L640.0,75.3 L642.2,74.0 L644.5,72.8 L646.7,71.5 L648.9,70.2 L651.1,69.0 L653.4,67.8 L655.6,66.5 L657.8,65.3 L660.1,64.1 L662.3,62.8 L664.5,61.6 L666.7,60.4 L669.0,59.2 L671.2,58.0 L673.4,56.8 L675.7,55.6 L677.9,54.4 L680.1,53.2 L682.3,52.0 L684.6,50.8 L686.8,49.7 L689.0,48.5 L691.2,47.3 L693.5,46.1 L695.7,45.0 L697.9,43.8 L700.1,42.7 L702.4,41.5 L704.6,40.4 L706.8,39.2 L709.0,38.1 L711.4,36.9 L713.7,35.7 L716.1,34.5 L718.4,33.3 L720.8,32.1 L723.1,30.9 L725.5,29.7 L727.8,28.6 L730.2,27.4 L732.5,26.2 L734.8,25.0 L737.2,23.9 L739.5,22.7 L741.9,21.5 L744.2,20.4 L746.5,19.2 L748.9,18.1 L751.2,16.9 L753.6,15.8 L755.9,14.6 L758.2,13.5 L760.6,12.3 L762.9,11.2 L765.2,10.1 L767.6,8.9 L769.9,7.8 L772.2,6.7 L774.6,5.5 L776.9,4.4 L779.3,3.3 L781.6,2.2 L783.9,1.1 L786.3,-0.0 L788.6,-1.1 L790.9,-2.2 L793.3,-3.3 L795.6,-4.4 L797.9,-5.5 L800.3,-6.6 L802.6,-7.7 L804.9,-8.8 L807.3,-9.8 L809.6,-10.9 L811.9,-12.0 L814.3,-13.1 L814.5,-13.2"/>
</g>
<g stroke="#000" stroke-width="2.0" fill="none" stroke-linecap="butt">
<path d="M130.5,639.2 L130.5,11.2 L1003.2,11.2 L1003.2,639.2 Z"/>
<path d="M121.5,11.20 L130.5,11.20"/>
<path d="M121.5,136.80 L130.5,136.80"/>
<path d="M121.5,262.40 L130.5,262.40"/>
<path d="M121.5,388.00 L130.5,388.00"/>
<path d="M121.5,513.60 L130.5,513.60"/>
<path d="M121.5,639.20 L130.5,639.20"/>
<path d="M130.50,639.2 L130.50,649.2"/>
<path d="M348.68,639.2 L348.68,649.2"/>
<path d="M566.85,639.2 L566.85,649.2"/>
<path d="M785.03,639.2 L785.03,649.2"/>
<path d="M1003.20,639.2 L1003.20,649.2"/>
</g>
<text x="57.9" y="20.00" font-family="Liberation Sans, Arial, sans-serif" stroke="#111" stroke-width="0.3" font-size="25" fill="#111">10<tspan font-size="16" dx="0.6" dy="-8.1">-5</tspan></text>
<text x="57.9" y="145.60" font-family="Liberation Sans, Arial, sans-serif" stroke="#111" stroke-width="0.3" font-size="25" fill="#111">10<tspan font-size="16" dx="0.6" dy="-8.1">-6</tspan></text>
<text x="57.9" y="271.20" font-family="Liberation Sans, Arial, sans-serif" stroke="#111" stroke-width="0.3" font-size="25" fill="#111">10<tspan font-size="16" dx="0.6" dy="-8.1">-7</tspan></text>
<text x="57.9" y="396.80" font-family="Liberation Sans, Arial, sans-serif" stroke="#111" stroke-width="0.3" font-size="25" fill="#111">10<tspan font-size="16" dx="0.6" dy="-8.1">-8</tspan></text>
<text x="57.9" y="522.40" font-family="Liberation Sans, Arial, sans-serif" stroke="#111" stroke-width="0.3" font-size="25" fill="#111">10<tspan font-size="16" dx="0.6" dy="-8.1">-9</tspan></text>
<text x="57.9" y="648.00" font-family="Liberation Sans, Arial, sans-serif" stroke="#111" stroke-width="0.3" font-size="25" fill="#111">10<tspan font-size="16" dx="0.6" dy="-8.1">-10</tspan></text>
<text x="130.50" y="683" font-family="Liberation Sans, Arial, sans-serif" stroke="#111" stroke-width="0.3" font-size="25" fill="#111" text-anchor="middle">0</text>
<text x="348.68" y="683" font-family="Liberation Sans, Arial, sans-serif" stroke="#111" stroke-width="0.3" font-size="25" fill="#111" text-anchor="middle">200</text>
<text x="566.85" y="683" font-family="Liberation Sans, Arial, sans-serif" stroke="#111" stroke-width="0.3" font-size="25" fill="#111" text-anchor="middle">400</text>
<text x="785.03" y="683" font-family="Liberation Sans, Arial, sans-serif" stroke="#111" stroke-width="0.3" font-size="25" fill="#111" text-anchor="middle">600</text>
<text x="1003.20" y="683" font-family="Liberation Sans, Arial, sans-serif" stroke="#111" stroke-width="0.3" font-size="25" fill="#111" text-anchor="middle">800</text>
<text transform="translate(567,737.6) scale(1,1.065)" x="0" y="0" font-family="Liberation Sans, Arial, sans-serif" stroke="#111" stroke-width="0.3" font-size="29.5" fill="#111" text-anchor="middle">Stress (MPa)</text>
<text transform="translate(30.9,485.2) rotate(-90) scale(1,1.065)" x="0" y="0" font-family="Liberation Sans, Arial, sans-serif" stroke="#111" stroke-width="0.3" font-size="29.5" fill="#111">Minimum creep rate (s<tspan font-size="19" dy="-15.2">-1</tspan><tspan dy="15.2">)</tspan></text>
<rect x="151.1" y="24.6" width="180.5" height="252.1" fill="#fff" stroke="#3a3a3a" stroke-width="1.5"/>
<circle cx="196.30" cy="56.20" r="8.1" fill="#000000"/>
<text x="237.1" y="65.10" font-family="Liberation Sans, Arial, sans-serif" stroke="#111" stroke-width="0.3" font-size="25" fill="#111">625 <tspan dx="1">°C</tspan></text>
<polygon points="189.05,83.65 203.55,83.65 196.30,95.95" fill="#bdbdbd" stroke="#000" stroke-width="1.6" stroke-linejoin="miter"/>
<text x="237.1" y="96.50" font-family="Liberation Sans, Arial, sans-serif" stroke="#111" stroke-width="0.3" font-size="25" fill="#111">650 <tspan dx="1">°C</tspan></text>
<rect x="189.55" y="112.25" width="13.5" height="13.5" fill="#666666" stroke="#000" stroke-width="1.6"/>
<text x="237.1" y="127.90" font-family="Liberation Sans, Arial, sans-serif" stroke="#111" stroke-width="0.3" font-size="25" fill="#111">675 <tspan dx="1">°C</tspan></text>
<polygon points="196.30,142.00 204.70,150.40 196.30,158.80 187.90,150.40" fill="#dcdcdc" stroke="#000" stroke-width="1.6"/>
<text x="237.1" y="159.30" font-family="Liberation Sans, Arial, sans-serif" stroke="#111" stroke-width="0.3" font-size="25" fill="#111">700 <tspan dx="1">°C</tspan></text>
<polygon points="189.05,185.75 203.55,185.75 196.30,173.45" fill="#3a3a3a" stroke="#000" stroke-width="1.6"/>
<text x="237.1" y="190.70" font-family="Liberation Sans, Arial, sans-serif" stroke="#111" stroke-width="0.3" font-size="25" fill="#111">725 <tspan dx="1">°C</tspan></text>
<polygon points="196.30,205.20 203.23,209.20 203.23,217.20 196.30,221.20 189.37,217.20 189.37,209.20" fill="#888888" stroke="#000" stroke-width="1.6"/>
<text x="237.1" y="222.10" font-family="Liberation Sans, Arial, sans-serif" stroke="#111" stroke-width="0.3" font-size="25" fill="#111">750 <tspan dx="1">°C</tspan></text>
<path d="M168,244.60 L224.2,244.60" stroke="#000" stroke-width="1.45"/>
<text x="237.1" y="253.40" font-family="Liberation Sans, Arial, sans-serif" stroke="#111" stroke-width="0.3" font-size="25" fill="#111">Fit</text>
</g>
</svg>
</body></html>
